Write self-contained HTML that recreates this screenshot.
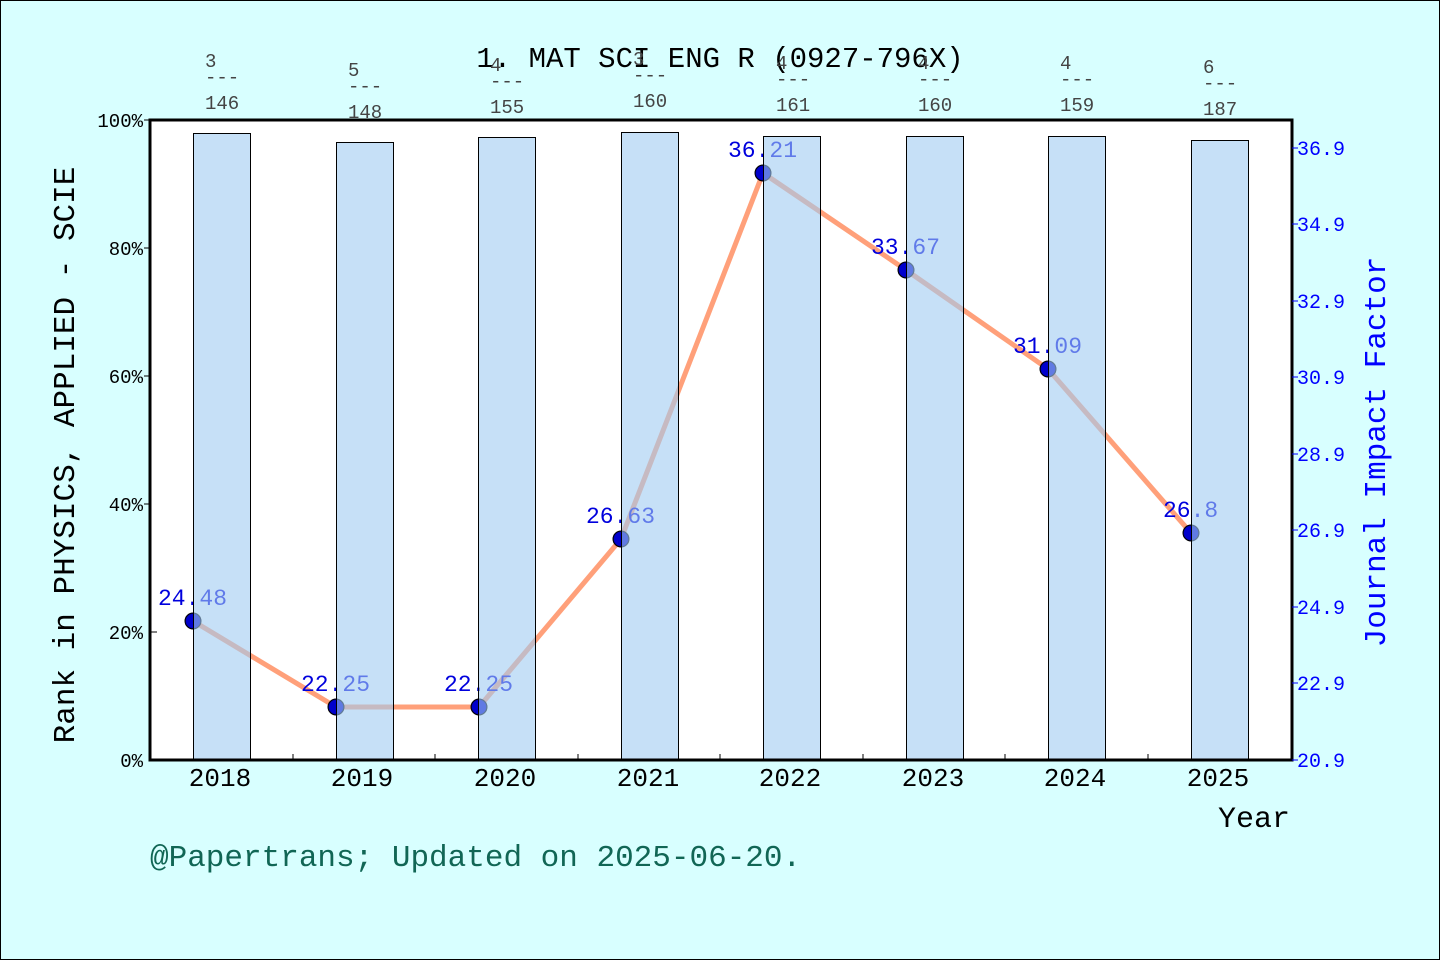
<!DOCTYPE html>
<html><head><meta charset="utf-8"><style>
html,body{margin:0;padding:0;background:#D8FFFF;}
svg{display:block;}
text{font-family:"Liberation Mono",monospace;}
</style></head><body>
<svg width="1440" height="960" viewBox="0 0 1440 960">
<rect x="0.5" y="0.5" width="1439" height="959" fill="#D8FFFF" stroke="#000"/>
<rect x="150" y="120" width="1142" height="640" fill="#fff"/>
<polyline points="193,621 336,707 479,707 621,539 763,173 906,270 1048,369 1191,533" fill="none" stroke="#FFA07A" stroke-width="5" stroke-linejoin="round"/>
<g fill="#000080" stroke="#000" stroke-width="1">
<circle cx="193" cy="621" r="8"/><circle cx="336" cy="707" r="8"/><circle cx="479" cy="707" r="8"/><circle cx="621" cy="539" r="8"/><circle cx="763" cy="173" r="8"/><circle cx="906" cy="270" r="8"/><circle cx="1048" cy="369" r="8"/><circle cx="1191" cy="533" r="8"/>
</g>
<g fill="#0000CC">
<circle cx="193" cy="621" r="7"/><circle cx="336" cy="707" r="7"/><circle cx="479" cy="707" r="7"/><circle cx="621" cy="539" r="7"/><circle cx="763" cy="173" r="7"/><circle cx="906" cy="270" r="7"/><circle cx="1048" cy="369" r="7"/><circle cx="1191" cy="533" r="7"/>
</g>
<g font-size="23" fill="#0000DD">
<text x="158" y="605">24.48</text>
<text x="301" y="691">22.25</text>
<text x="444" y="691">22.25</text>
<text x="586" y="523">26.63</text>
<text x="728" y="157">36.21</text>
<text x="871" y="254">33.67</text>
<text x="1013" y="353">31.09</text>
<text x="1163" y="517">26.8</text>
</g>
<g fill="rgba(160,203,242,0.6)" stroke="#000" stroke-width="1">
<rect x="193.5" y="133.5" width="57" height="626.5"/>
<rect x="336.5" y="142.5" width="57" height="617.5"/>
<rect x="478.5" y="137.5" width="57" height="622.5"/>
<rect x="621.5" y="132.5" width="57" height="627.5"/>
<rect x="763.5" y="136.5" width="57" height="623.5"/>
<rect x="906.5" y="136.5" width="57" height="623.5"/>
<rect x="1048.5" y="136.5" width="57" height="623.5"/>
<rect x="1191.5" y="140.5" width="57" height="619.5"/>
</g>
<rect x="150" y="120" width="1142" height="640" fill="none" stroke="#000" stroke-width="3"/>
<g stroke="#000" stroke-width="1">
<line x1="150" y1="120" x2="144" y2="120"/><line x1="150" y1="248" x2="144" y2="248"/><line x1="150" y1="376" x2="144" y2="376"/><line x1="150" y1="504" x2="144" y2="504"/><line x1="150" y1="632" x2="157" y2="632"/>
<line x1="293" y1="760" x2="293" y2="754"/><line x1="435" y1="760" x2="435" y2="754"/><line x1="578" y1="760" x2="578" y2="754"/><line x1="720" y1="760" x2="720" y2="754"/><line x1="863" y1="760" x2="863" y2="754"/><line x1="1005" y1="760" x2="1005" y2="754"/><line x1="1148" y1="760" x2="1148" y2="754"/>
</g>
<g stroke="#0000FF" stroke-width="1">
<line x1="1292" y1="148" x2="1298" y2="148"/><line x1="1292" y1="224" x2="1298" y2="224"/><line x1="1292" y1="301" x2="1298" y2="301"/><line x1="1292" y1="377" x2="1298" y2="377"/><line x1="1292" y1="454" x2="1298" y2="454"/><line x1="1292" y1="530" x2="1298" y2="530"/><line x1="1292" y1="607" x2="1298" y2="607"/><line x1="1292" y1="683" x2="1298" y2="683"/><line x1="1292" y1="760" x2="1298" y2="760"/>
</g>
<g font-size="19" fill="#000" text-anchor="end">
<text x="143" y="127">100%</text><text x="143" y="255">80%</text><text x="143" y="383">60%</text><text x="143" y="511">40%</text><text x="143" y="639">20%</text><text x="143" y="767">0%</text>
</g>
<g font-size="20" fill="#0000FF">
<text x="1297" y="155">36.9</text><text x="1297" y="231">34.9</text><text x="1297" y="308">32.9</text><text x="1297" y="384">30.9</text><text x="1297" y="461">28.9</text><text x="1297" y="537">26.9</text><text x="1297" y="614">24.9</text><text x="1297" y="690">22.9</text><text x="1297" y="767">20.9</text>
</g>
<g font-size="26" fill="#000" text-anchor="middle">
<text x="220" y="786">2018</text><text x="362" y="786">2019</text><text x="505" y="786">2020</text><text x="648" y="786">2021</text><text x="790" y="786">2022</text><text x="933" y="786">2023</text><text x="1075" y="786">2024</text><text x="1218" y="786">2025</text>
</g>
<text x="1218" y="827" font-size="30" fill="#000">Year</text>
<text x="720" y="67" font-size="29" fill="#000" text-anchor="middle">1.  MAT SCI ENG R (0927-796X)</text>
<g font-size="19" fill="#444" style="font-family:'Liberation Sans',sans-serif">
<text x="205" y="67">3</text><text x="205" y="83">---</text><text x="205" y="109">146</text>
<text x="348" y="76">5</text><text x="348" y="92">---</text><text x="348" y="118">148</text>
<text x="490" y="71">4</text><text x="490" y="87">---</text><text x="490" y="113">155</text>
<text x="633" y="65">3</text><text x="633" y="81">---</text><text x="633" y="107">160</text>
<text x="776" y="69">4</text><text x="776" y="85">---</text><text x="776" y="111">161</text>
<text x="918" y="69">4</text><text x="918" y="85">---</text><text x="918" y="111">160</text>
<text x="1060" y="69">4</text><text x="1060" y="85">---</text><text x="1060" y="111">159</text>
<text x="1203" y="73">6</text><text x="1203" y="89">---</text><text x="1203" y="115">187</text>
</g>
<text transform="translate(74,455) rotate(-90)" font-size="31" fill="#000" text-anchor="middle">Rank in PHYSICS, APPLIED - SCIE</text>
<text transform="translate(1385,452) rotate(-90)" font-size="31" fill="#0000FF" text-anchor="middle">Journal Impact Factor</text>
<text x="150" y="866" font-size="31" fill="#116655">@Papertrans; Updated on 2025-06-20.</text>
</svg>
</body></html>
